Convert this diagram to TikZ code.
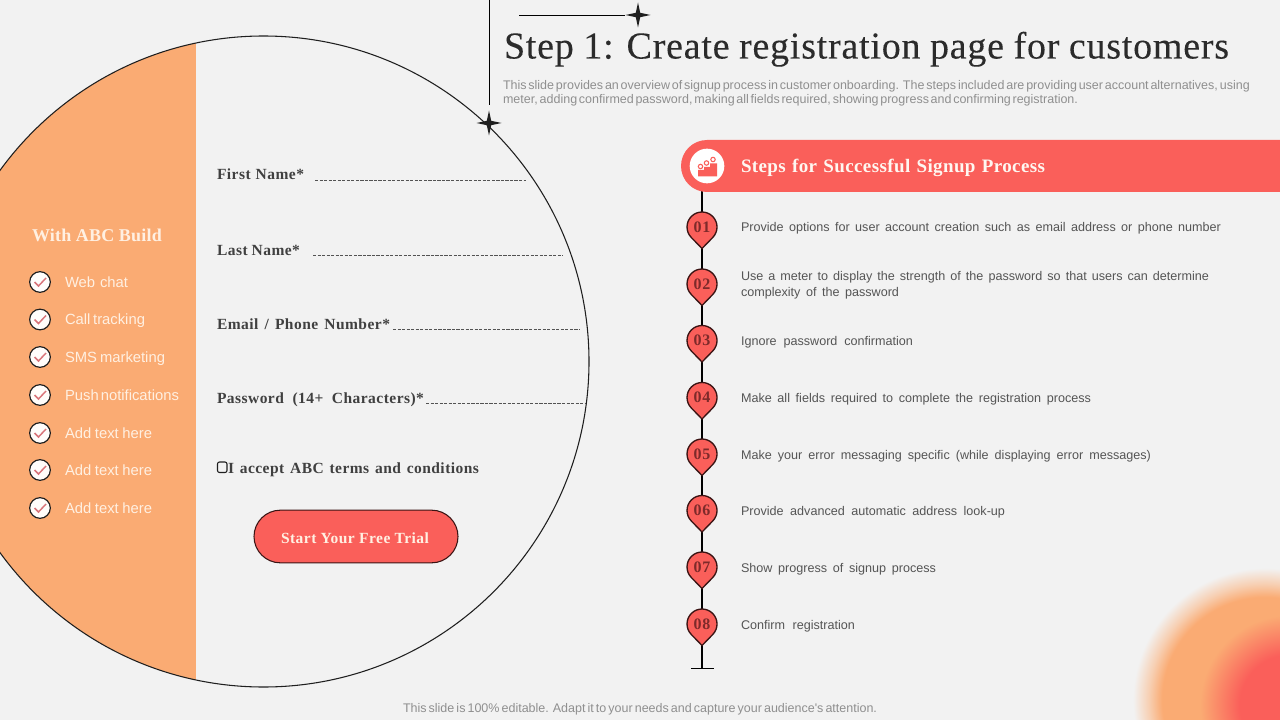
\documentclass[tikz,border=0pt]{standalone}
\usepackage{fontspec}
\setmainfont{Liberation Serif}
\newfontfamily\arial{Liberation Sans}
\usetikzlibrary{calc}
\definecolor{bgc}{HTML}{F2F2F2}
\definecolor{orangec}{HTML}{FAAB73}
\definecolor{midc}{HTML}{F7CFB2}
\definecolor{redc}{HTML}{FA5F5A}
\definecolor{inkc}{HTML}{1F1F1F}
\definecolor{titlec}{HTML}{2B2B2B}
\definecolor{grayc}{HTML}{8F8F8F}
\definecolor{stepc}{HTML}{555555}
\definecolor{labelc}{HTML}{404040}
\definecolor{creamc}{HTML}{FFF0E2}
\definecolor{numc}{HTML}{7E2A2A}
\definecolor{pinline}{HTML}{3A1414}
\definecolor{checkc}{HTML}{D8747A}
\pgfdeclareradialshading{glowA}{\pgfpointorigin}{color(0bp)=(orangec); color(19.5bp)=(orangec); color(22bp)=(midc); color(25bp)=(bgc); color(50bp)=(bgc)}
\pgfdeclareradialshading{glowB}{\pgfpointorigin}{color(0bp)=(redc); color(14bp)=(redc); color(25bp)=(orangec); color(50bp)=(orangec)}
\newdimen\pxu \pxu=0.75pt
\newcommand\fit[2]{\hbox to #1\pxu{\spaceskip=.25em plus 1fil minus 1fil\relax #2}}
\newcommand\fs[1]{\fontsize{\fpeval{#1*.75}pt}{\fpeval{#1*.9}pt}\selectfont}
\tikzset{
  x=.75pt,y=-.75pt,
  txt/.style={inner sep=0pt,outer sep=0pt,anchor=base west},
  sparkle/.pic={\fill[inkc] (0,-12.5)--(2.2,-2.2)--(12.5,0)--(2.2,2.2)--(0,12.5)--(-2.2,2.2)--(-12.5,0)--(-2.2,-2.2)--cycle;},
  rule/.style={draw=black,line width=.8pt},
  field/.style={draw=labelc!90,line width=.55pt,dash pattern=on 2.4pt off 1pt},
  label/.style={txt,text=labelc,font=\fs{15.5}\bfseries\addfontfeature{LetterSpace=3}},
  steptxt/.style={txt,text=stepc,font=\arial\fs{12.6}},
  graytxt/.style={txt,text=grayc,font=\arial\fs{12.5}},
  listtxt/.style={txt,text=creamc,font=\arial\fs{14.8}},
  numtxt/.style={inner sep=0pt,text=numc,font=\fs{16}\bfseries\addfontfeature{LetterSpace=4}},
  tick/.style={circle,draw=inkc,fill=white!85!creamc,line width=.9pt,minimum size=15.5pt,inner sep=0pt},
}
\newcommand\pin[3]{%
  \fill[redc,draw=pinline,line width=1pt] ($(702,#2)+(-10.7,10.5)$) arc[start angle=135.6,end angle=404.4,radius=15] -- (702,{#2+21.5}) -- cycle;
  \node[numtxt] (#1) at (702,#2) {#3};}
\newcommand\chk[4]{%
  \node[tick] (#1) at (40,#2) {};
  \draw[checkc,line width=1.1pt] (34.5,{#2}) -- (38.5,{#2+4}) -- (46,{#2-4});
  \node[listtxt] (#1t) at (65,{#2+5}) {\fit{#3}{#4}};}
\begin{document}
\begin{tikzpicture}
\useasboundingbox (0,0) rectangle (1280,720);
\fill[bgc] (0,0) rectangle (1280,720);
\begin{scope}
\clip (0,0) rectangle (1280,720);
% glow
\shade[shading=glowA] (1265,700) circle (132);
\shade[shading=glowB] (1290,705) circle (90);
% big circle
\begin{scope}
\clip (263.5,361.5) circle (325.5);
\fill[orangec] (-80,0) rectangle (196,720);
\end{scope}
\coordinate (bigc) at (263.5,361.5);
\draw[inkc,line width=.8pt] (bigc) circle (325.5);
\end{scope}
% rules and stars
\coordinate (vtop) at (489.5,0);
\pic (starA) at (489,123) {sparkle};
\coordinate (starAc) at (489.5,105);
\draw[rule] (vtop) -- (starAc);
\pic (starB) at (638,15) {sparkle};
\coordinate (hl) at (519,15.5);
\coordinate (hr) at (625,15.5);
\draw[rule] (hl) -- (hr);
% title
\node[txt,text=titlec,font=\fs{38}\addfontfeature{LetterSpace=2,FakeBold=0.15}] (title) at (504,58.5) {\fit{725}{Step 1: Create registration page for customers}};
\node[graytxt] (sub1) at (503,90) {\fit{747}{This slide provides an overview of signup process in customer onboarding. The steps included are providing user account alternatives, using}};
\node[graytxt] (sub2) at (503,104) {\fit{575}{meter, adding confirmed password, making all fields required, showing progress and confirming registration.}};
\node[graytxt] (foot) at (403,712.5) {\fit{474}{This slide is 100\% editable. Adapt it to your needs and capture your audience's attention.}};
% left list
\node[txt,text=creamc,font=\fs{18}\bfseries\addfontfeature{LetterSpace=1.5}] (abc) at (32,241.5) {\fit{130}{With ABC Build}};
\chk{c1}{282}{63}{Web chat}
\chk{c2}{319.5}{80}{Call tracking}
\chk{c3}{357}{100}{SMS marketing}
\chk{c4}{395}{114}{Push notifications}
\chk{c5}{433}{87}{Add text here}
\chk{c6}{470}{87}{Add text here}
\chk{c7}{508}{87}{Add text here}
% form
\node[label] (f1) at (217,180) {\fit{87}{First Name*}};
\coordinate (d1a) at (315,180.5); \coordinate (d1b) at (526,180.5);
\draw[field] (d1a) -- (d1b);
\node[label] (f2) at (217,255) {\fit{83}{Last Name*}};
\coordinate (d2a) at (313,255.5); \coordinate (d2b) at (563,255.5);
\draw[field] (d2a) -- (d2b);
\node[label] (f3) at (217,329) {\fit{173}{Email / Phone Number*}};
\coordinate (d3a) at (393,329.5); \coordinate (d3b) at (580,329.5);
\draw[field] (d3a) -- (d3b);
\node[label] (f4) at (217,403) {\fit{207}{Password (14+ Characters)*}};
\coordinate (d4a) at (426,403.5); \coordinate (d4b) at (585,403.5);
\draw[field] (d4a) -- (d4b);
\draw[inkc,line width=.8pt,rounded corners=1.5pt] (217.5,462) rectangle (227,472.5);
\node[label] (f5) at (228,473) {\fit{251}{I accept ABC terms and conditions}};
\node[draw=pinline,fill=redc,line width=.8pt,rounded corners=19.8pt,minimum width=153pt,minimum height=39.5pt,inner sep=0pt] (btn) at (356,536.5) {};
\node[txt,text=creamc,font=\fs{15.5}\bfseries\addfontfeature{LetterSpace=3}] (btnt) at (281,543) {\fit{148}{Start Your Free Trial}};
% timeline
\coordinate (tltop) at (702,190);
\coordinate (tlend) at (702,668.5);
\coordinate (tla) at (691,668.5);
\coordinate (tlb) at (714,668.5);
\draw[rule] (tltop) -- (tlend);
\draw[rule] (tla) -- (tlb);
% header
\fill[redc] (1280,140) -- (707,140) arc[start angle=-90,end angle=-270,radius=26] -- (1280,192) -- cycle;
\node[circle,fill=white,minimum size=26pt,inner sep=0pt] (hc) at (707,166) {};
\fill[redc] (698,176.5) -- (698,170) -- (704,170) -- (704,167) -- (710,167) -- (710,163.5) -- (717,163.5) -- (717,176.5) -- cycle;
\draw[redc,line width=.8pt] (700.5,166.5) circle (2.2) (706.5,163) circle (2.2) (713,159.5) circle (2.2);
\node[txt,text=white!90!orangec,font=\fs{19}\bfseries\addfontfeature{LetterSpace=2}] (ht) at (741,173) {\fit{304}{Steps for Successful Signup Process}};
% pins and text
\pin{p1}{227}{01}
\pin{p2}{284}{02}
\pin{p3}{340.5}{03}
\pin{p4}{397.5}{04}
\pin{p5}{454}{05}
\pin{p6}{510.5}{06}
\pin{p7}{567}{07}
\pin{p8}{624}{08}
\node[steptxt] (s1) at (741,232) {\fit{480}{Provide options for user account creation such as email address or phone number}};
\node[steptxt] (s2a) at (741,280) {\fit{468}{Use a meter to display the strength of the password so that users can determine}};
\node[steptxt] (s2b) at (741,296) {\fit{158}{complexity of the password}};
\node[steptxt] (s3) at (741,345) {\fit{172}{Ignore password confirmation}};
\node[steptxt] (s4) at (741,402) {\fit{350}{Make all fields required to complete the registration process}};
\node[steptxt] (s5) at (741,459) {\fit{410}{Make your error messaging specific (while displaying error messages)}};
\node[steptxt] (s6) at (741,515) {\fit{264}{Provide advanced automatic address look-up}};
\node[steptxt] (s7) at (741,572) {\fit{195}{Show progress of signup process}};
\node[steptxt] (s8) at (741,629) {\fit{114}{Confirm registration}};
\end{tikzpicture}
\end{document}
